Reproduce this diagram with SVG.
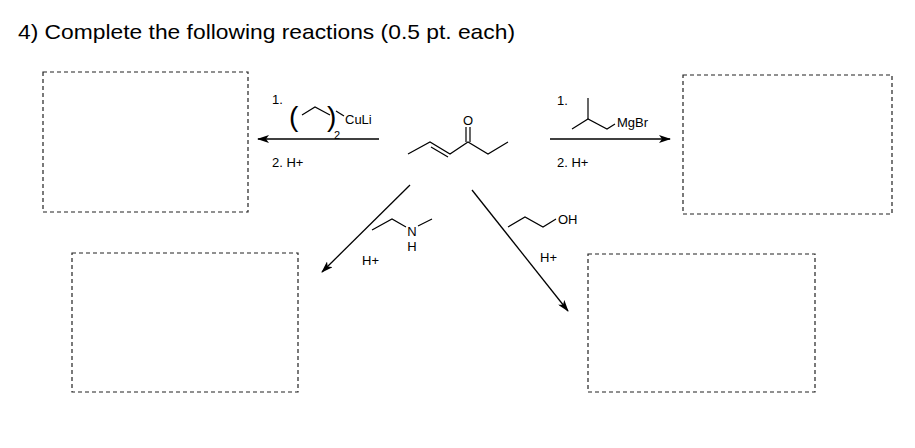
<svg xmlns="http://www.w3.org/2000/svg" width="915" height="448" viewBox="0 0 915 448">
<style>
text{font-family:"Liberation Sans",Arial,sans-serif;fill:#000}
.box{fill:none;stroke:#222;stroke-width:1.2;stroke-dasharray:4,3}
.b{fill:none;stroke:#000;stroke-width:1.2;stroke-linejoin:miter}
.arr{fill:none;stroke:#000;stroke-width:1.3;marker-end:url(#ah)}
.s{font-size:13px}
</style>
<defs><marker id="ah" markerWidth="12" markerHeight="8" refX="11" refY="4" orient="auto" markerUnits="userSpaceOnUse"><path d="M0,0 L12,4 L0,8 L3,4 Z" fill="#000"/></marker></defs>
<rect width="915" height="448" fill="#fff"/>
<text x="18" y="39" font-size="21" textLength="497" lengthAdjust="spacingAndGlyphs">4) Complete the following reactions (0.5 pt. each)</text>
<g id="box-tl"><rect class="box" x="43" y="72" width="205" height="140"/></g>
<g id="box-tr"><rect class="box" x="683" y="75" width="209" height="139"/></g>
<g id="box-bl"><rect class="box" x="72" y="253" width="226" height="139"/></g>
<g id="box-br"><rect class="box" x="588" y="254" width="227" height="138"/></g>
<g id="ketone">
<polyline class="b" points="408,154 430,142 450,154 468,142 488,154 508,142"/>
<line class="b" x1="431" y1="147" x2="448" y2="157"/>
<line class="b" x1="466" y1="142" x2="466" y2="127"/>
<line class="b" x1="470" y1="142" x2="470" y2="127"/>
<text x="468" y="125" font-size="13" text-anchor="middle">O</text>
</g>
<g id="cuprate">
<text x="272" y="104" class="s">1.</text>
<text x="289" y="126" font-size="28">(</text>
<polyline class="b" points="302,115 315,107 330,115"/>
<text x="327" y="126" font-size="28">)</text>
<line class="b" x1="336" y1="111" x2="344" y2="116"/>
<text x="345" y="124" class="s">CuLi</text>
<text x="334" y="139" font-size="11">2</text>
<text x="272" y="167" class="s">2. H+</text>
</g>
<g id="grignard">
<text x="557" y="105" class="s">1.</text>
<polyline class="b" points="572,129 588,119 607,129 615,124"/>
<line class="b" x1="588" y1="119" x2="588" y2="98"/>
<text x="617" y="127" class="s">MgBr</text>
<text x="557" y="167" class="s">2. H+</text>
</g>
<g id="amine">
<polyline class="b" points="372,230 392,219 406,227"/>
<line class="b" x1="418" y1="226" x2="432" y2="219"/>
<text x="412" y="236" class="s" text-anchor="middle">N</text>
<text x="412" y="251" class="s" text-anchor="middle">H</text>
<text x="362" y="265" class="s">H+</text>
</g>
<g id="alcohol">
<polyline class="b" points="508,227 525,217 543,227 556,219"/>
<text x="558" y="224" class="s">OH</text>
<text x="540" y="262" class="s">H+</text>
</g>
<g id="connectors">
<line class="arr" x1="379" y1="139" x2="258" y2="139"/>
<line class="arr" x1="550" y1="139" x2="670" y2="139"/>
<line class="arr" x1="410" y1="185" x2="322" y2="272"/>
<line class="arr" x1="472" y1="190" x2="568" y2="311"/>
</g>
</svg>
